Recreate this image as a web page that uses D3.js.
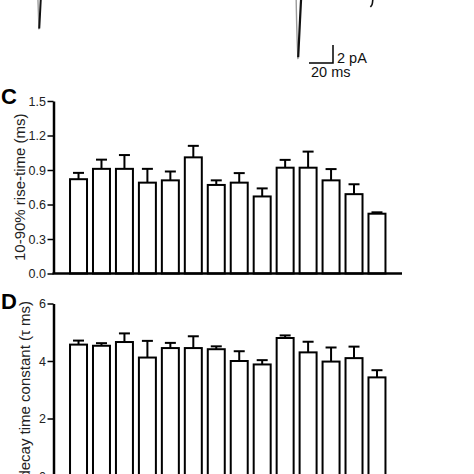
<!DOCTYPE html>
<html>
<head>
<meta charset="utf-8">
<script src="https://cdn.jsdelivr.net/npm/d3@7"></script>
<style>
  body { margin: 0; background: #fff; }
  svg { display: block; font-family: "Liberation Sans", Arial, sans-serif; }
  .axis path, .axis line { stroke: #000; }
  .axis text { fill: #222; font-size: 12.5px; font-family: "Liberation Sans", Arial, sans-serif; }
</style>
</head>
<body>
<div id="chart"></div>
<script>
// groups along x (one bar each)
var groups = ["1", "2", "3", "4", "5", "6", "7", "8", "9", "10", "11", "12", "13", "14"];

// panel C: 10-90% rise-time (ms), mean and SEM
var riseMean = [0.82, 0.91, 0.91, 0.79, 0.81, 1.01, 0.77, 0.79, 0.67, 0.92, 0.92, 0.81, 0.69, 0.52];
var riseErr  = [0.055, 0.08, 0.12, 0.12, 0.077, 0.10, 0.04, 0.083, 0.07, 0.068, 0.14, 0.098, 0.086, 0.012];
var riseTicks = [0, 0.3, 0.6, 0.9, 1.2, 1.5];

// panel D: decay time constant (ms), mean and SEM
var decayMean = [4.57, 4.53, 4.66, 4.12, 4.45, 4.45, 4.41, 4.00, 3.88, 4.80, 4.30, 3.98, 4.10, 3.43];
var decayErr  = [0.14, 0.09, 0.30, 0.58, 0.18, 0.41, 0.10, 0.34, 0.15, 0.09, 0.37, 0.49, 0.40, 0.25];
var decayTicks = [0, 2, 4, 6];

// bits of the current traces left over at the top (time ms, current pA)
var leftGrey   = [[30.8, 0], [31.6, -3.3], [32.5, -6.6]];
var leftBlack  = [[32.7, -6.5], [34.0, -3.3], [35.0, 0]];
var rightGrey  = [[246.4, 0], [247.2, -6.7], [248.3, -9.9]];
var rightBlack = [[248.5, -9.7], [250.8, -3.3], [252.3, 0]];
var tailBlack  = [[311.2, 0], [310.9, -3.3], [310.2, -3.9], [308.6, -4.1]];

var W = 474, H = 474;

var svg = d3.select('#chart').append('svg')
    .attr('width', W)
    .attr('height', H);

// ---- traces + scale bar ----
var tx = d3.scaleLinear().domain([0, 20]).range([0, 24]);
var ty = d3.scaleLinear().domain([0, -2]).range([-30, -12]);
var line = d3.line()
    .x(function(d) { return tx(d[0]); })
    .y(function(d) { return ty(d[1]); })
    .curve(d3.curveBasis);

var traces = svg.append('g').attr('class', 'traces');
[[leftGrey, '#9a9a9a', 1.4], [rightGrey, '#9a9a9a', 1.4],
 [leftBlack, '#111', 2], [rightBlack, '#111', 2.2], [tailBlack, '#111', 1.6]]
  .forEach(function(t) {
    traces.append('path')
      .attr('d', line(t[0]))
      .attr('fill', 'none')
      .attr('stroke', t[1])
      .attr('stroke-width', t[2]);
  });

var sbT = 277.5, sbI = -10.33;
var sb = svg.append('g').attr('class', 'scalebar')
    .attr('stroke', '#000').attr('stroke-width', 1.5).attr('fill', 'none');
sb.append('path')
  .attr('d', 'M' + tx(sbT - 20) + ',' + ty(sbI) + 'H' + tx(sbT) + 'V' + ty(sbI + 2));
svg.append('text').attr('x', tx(sbT) + 4).attr('y', ty(sbI))
  .attr('font-size', 14.5).attr('fill', '#111').text('2 pA');
svg.append('text').attr('x', tx(sbT - 20) + 2).attr('y', ty(sbI) + 14.5)
  .attr('font-size', 14.5).attr('fill', '#111').text('20 ms');

// ---- bar panels ----
var x = d3.scaleBand()
    .domain(groups)
    .range([53.5, 402])
    .paddingInner(0.26)
    .paddingOuter(0.72);

function barPanel(opts) {
  var y = d3.scaleLinear().domain(opts.domain).range(opts.range);
  var g = svg.append('g').attr('class', 'panel');

  var bars = g.selectAll('.bar')
    .data(opts.mean)
    .enter().append('g')
    .attr('class', 'bar');

  // error bars (upper half only)
  bars.append('line')
    .attr('x1', function(d, i) { return x(groups[i]) + x.bandwidth() / 2; })
    .attr('x2', function(d, i) { return x(groups[i]) + x.bandwidth() / 2; })
    .attr('y1', function(d) { return y(d); })
    .attr('y2', function(d, i) { return y(d + opts.err[i]); })
    .attr('stroke', '#000').attr('stroke-width', 2);
  bars.append('line')
    .attr('x1', function(d, i) { return x(groups[i]) + x.bandwidth() / 2 - 5.5; })
    .attr('x2', function(d, i) { return x(groups[i]) + x.bandwidth() / 2 + 5.5; })
    .attr('y1', function(d, i) { return y(d + opts.err[i]); })
    .attr('y2', function(d, i) { return y(d + opts.err[i]); })
    .attr('stroke', '#000').attr('stroke-width', 2);

  bars.append('rect')
    .attr('x', function(d, i) { return x(groups[i]); })
    .attr('y', function(d) { return y(d); })
    .attr('width', x.bandwidth())
    .attr('height', function(d) { return y(0) - y(d); })
    .attr('fill', '#fff')
    .attr('stroke', '#000')
    .attr('stroke-width', 2);

  var ax = g.append('g')
    .attr('class', 'axis')
    .attr('transform', 'translate(53.5,0)')
    .call(d3.axisLeft(y).tickValues(opts.ticks).tickFormat(d3.format(opts.fmt))
      .tickSize(6).tickSizeOuter(0).tickPadding(1.5));
  ax.select('.domain').attr('stroke-width', 2.5);
  ax.selectAll('.tick line').attr('stroke-width', 1.5);

  // x axis line
  g.append('line')
    .attr('x1', 52.5).attr('x2', 402)
    .attr('y1', y(0)).attr('y2', y(0))
    .attr('stroke', '#000').attr('stroke-width', 2.5);

  // axis title, baseline at labelX
  g.append('text')
    .attr('transform', 'translate(' + opts.labelX + ',' + (y(0) + y(opts.domain[1])) / 2 + ') rotate(-90)')
    .attr('text-anchor', 'middle')
    .attr('font-size', 15)
    .attr('fill', '#222')
    .text(opts.label);

  g.append('text')
    .attr('x', 1).attr('y', opts.letterY)
    .attr('font-size', 22).attr('font-weight', 'bold')
    .text(opts.letter);
}

barPanel({
  mean: riseMean, err: riseErr, ticks: riseTicks, fmt: '.1f',
  domain: [0, 1.5], range: [273.5, 101],
  label: '10-90%  rise-time (ms)', labelX: 25,
  letter: 'C', letterY: 104
});

barPanel({
  mean: decayMean, err: decayErr, ticks: decayTicks, fmt: 'd',
  domain: [0, 6], range: [476, 303.5],
  label: 'decay time constant (\u03c4 ms)', labelX: 30,
  letter: 'D', letterY: 309
});
</script>
</body>
</html>
